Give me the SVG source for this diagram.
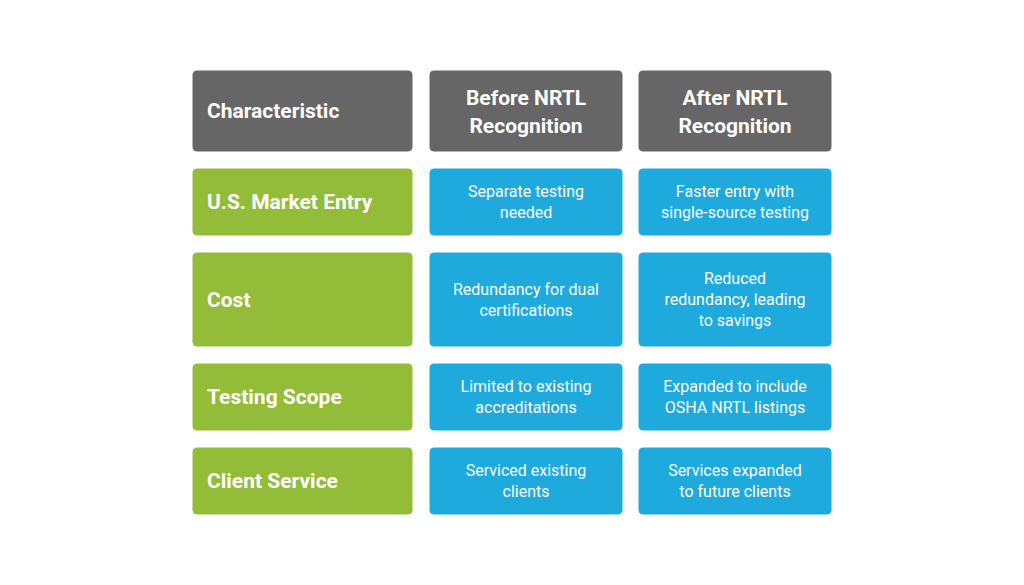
<svg xmlns="http://www.w3.org/2000/svg" width="1024" height="585" viewBox="0 0 1024 585">
<style>
rect{stroke:#ffffff;stroke-width:1}
.h{fill:#666666}.g{fill:#93bd38}.b{fill:#1eaadc}
text{font-family:Roboto,"Liberation Sans",sans-serif;fill:#ffffff}
.t{font-size:21px;font-weight:bold}
.c{font-size:16px;text-anchor:middle}
</style>
<rect width="1024" height="585" fill="#ffffff" stroke="none"/>
<g id="h1"><rect class="h" x="192" y="70" width="221" height="82" rx="5"/><text class="t" x="207" y="118">Characteristic</text></g>
<g id="h2"><rect class="h" x="429" y="70" width="194" height="82" rx="5"/><text class="t" x="526" y="105" text-anchor="middle">Before NRTL</text><text class="t" x="526" y="133" text-anchor="middle">Recognition</text></g>
<g id="h3"><rect class="h" x="638" y="70" width="194" height="82" rx="5"/><text class="t" x="735" y="105" text-anchor="middle">After NRTL</text><text class="t" x="735" y="133" text-anchor="middle">Recognition</text></g>
<g id="r1"><rect class="g" x="192" y="168" width="221" height="68" rx="5"/><text class="t" x="207" y="209">U.S. Market Entry</text></g>
<g id="r1b"><rect class="b" x="429" y="168" width="194" height="68" rx="5"/><text class="c" x="526" y="197">Separate testing</text><text class="c" x="526" y="218">needed</text></g>
<g id="r1a"><rect class="b" x="638" y="168" width="194" height="68" rx="5"/><text class="c" x="735" y="197">Faster entry with</text><text class="c" x="735" y="218">single-source testing</text></g>
<g id="r2"><rect class="g" x="192" y="252" width="221" height="95" rx="5"/><text class="t" x="207" y="307">Cost</text></g>
<g id="r2b"><rect class="b" x="429" y="252" width="194" height="95" rx="5"/><text class="c" x="526" y="295">Redundancy for dual</text><text class="c" x="526" y="316">certifications</text></g>
<g id="r2a"><rect class="b" x="638" y="252" width="194" height="95" rx="5"/><text class="c" x="735" y="284">Reduced</text><text class="c" x="735" y="305">redundancy, leading</text><text class="c" x="735" y="326">to savings</text></g>
<g id="r3"><rect class="g" x="192" y="363" width="221" height="68" rx="5"/><text class="t" x="207" y="404">Testing Scope</text></g>
<g id="r3b"><rect class="b" x="429" y="363" width="194" height="68" rx="5"/><text class="c" x="526" y="392">Limited to existing</text><text class="c" x="526" y="413">accreditations</text></g>
<g id="r3a"><rect class="b" x="638" y="363" width="194" height="68" rx="5"/><text class="c" x="735" y="392">Expanded to include</text><text class="c" x="735" y="413">OSHA NRTL listings</text></g>
<g id="r4"><rect class="g" x="192" y="447" width="221" height="68" rx="5"/><text class="t" x="207" y="488">Client Service</text></g>
<g id="r4b"><rect class="b" x="429" y="447" width="194" height="68" rx="5"/><text class="c" x="526" y="476">Serviced existing</text><text class="c" x="526" y="497">clients</text></g>
<g id="r4a"><rect class="b" x="638" y="447" width="194" height="68" rx="5"/><text class="c" x="735" y="476">Services expanded</text><text class="c" x="735" y="497">to future clients</text></g>
<g id="connectors"/>
</svg>
